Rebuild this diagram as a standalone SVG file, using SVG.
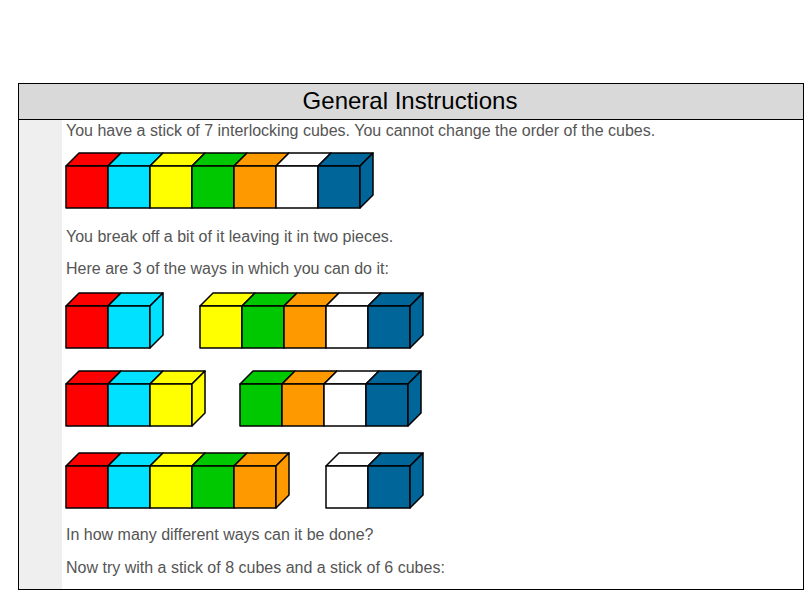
<svg xmlns="http://www.w3.org/2000/svg" width="811" height="607" viewBox="0 0 811 607">
<style>
text{font-family:"Liberation Sans",Arial,sans-serif}
.t{font-size:16px;fill:#555}
.c rect,.c polygon{stroke:#000;stroke-width:1.5;stroke-linejoin:round}
.r{fill:#ff0000}.cy{fill:#00e1ff}.y{fill:#ffff00}.g{fill:#00c800}.o{fill:#ff9900}.w{fill:#ffffff}.b{fill:#006699}
</style>
<rect x="0" y="0" width="811" height="607" fill="#fff"/>
<rect x="19" y="83" width="784" height="36" fill="#d9d9d9"/>
<rect x="19" y="119" width="43" height="470" fill="#efefef"/>
<rect x="18.5" y="83.5" width="785" height="506" fill="none" stroke="#000"/>
<line x1="18" y1="119.5" x2="803" y2="119.5" stroke="#000"/>
<g id="title"><text x="410" y="109" font-size="24" text-anchor="middle" fill="#000">General Instructions</text></g>
<g id="texts">
<text class="t" x="66" y="136">You have a stick of 7 interlocking cubes. You cannot change the order of the cubes.</text>
<text class="t" x="66" y="242">You break off a bit of it leaving it in two pieces.</text>
<text class="t" x="66" y="274">Here are 3 of the ways in which you can do it:</text>
<text class="t" x="66" y="540">In how many different ways can it be done?</text>
<text class="t" x="66" y="573">Now try with a stick of 8 cubes and a stick of 6 cubes:</text>
</g>
<g id="stick7" class="c">
<polygon class="r" points="66,166 79,153 121,153 108,166"/><rect class="r" x="66" y="166" width="42" height="42"/>
<polygon class="cy" points="108,166 121,153 163,153 150,166"/><rect class="cy" x="108" y="166" width="42" height="42"/>
<polygon class="y" points="150,166 163,153 205,153 192,166"/><rect class="y" x="150" y="166" width="42" height="42"/>
<polygon class="g" points="192,166 205,153 247,153 234,166"/><rect class="g" x="192" y="166" width="42" height="42"/>
<polygon class="o" points="234,166 247,153 289,153 276,166"/><rect class="o" x="234" y="166" width="42" height="42"/>
<polygon class="w" points="276,166 289,153 331,153 318,166"/><rect class="w" x="276" y="166" width="42" height="42"/>
<polygon class="b" points="318,166 331,153 373,153 360,166"/><rect class="b" x="318" y="166" width="42" height="42"/>
<polygon class="b" points="360,166 373,153 373,195 360,208"/>
</g>
<g id="row2a" class="c">
<polygon class="r" points="66,306 79,293 121,293 108,306"/><rect class="r" x="66" y="306" width="42" height="42"/>
<polygon class="cy" points="108,306 121,293 163,293 150,306"/><rect class="cy" x="108" y="306" width="42" height="42"/>
<polygon class="cy" points="150,306 163,293 163,335 150,348"/>
</g>
<g id="row2b" class="c">
<polygon class="y" points="200,306 213,293 255,293 242,306"/><rect class="y" x="200" y="306" width="42" height="42"/>
<polygon class="g" points="242,306 255,293 297,293 284,306"/><rect class="g" x="242" y="306" width="42" height="42"/>
<polygon class="o" points="284,306 297,293 339,293 326,306"/><rect class="o" x="284" y="306" width="42" height="42"/>
<polygon class="w" points="326,306 339,293 381,293 368,306"/><rect class="w" x="326" y="306" width="42" height="42"/>
<polygon class="b" points="368,306 381,293 423,293 410,306"/><rect class="b" x="368" y="306" width="42" height="42"/>
<polygon class="b" points="410,306 423,293 423,335 410,348"/>
</g>
<g id="row3a" class="c">
<polygon class="r" points="66,384 79,371 121,371 108,384"/><rect class="r" x="66" y="384" width="42" height="42"/>
<polygon class="cy" points="108,384 121,371 163,371 150,384"/><rect class="cy" x="108" y="384" width="42" height="42"/>
<polygon class="y" points="150,384 163,371 205,371 192,384"/><rect class="y" x="150" y="384" width="42" height="42"/>
<polygon class="y" points="192,384 205,371 205,413 192,426"/>
</g>
<g id="row3b" class="c">
<polygon class="g" points="240,384 253,371 295,371 282,384"/><rect class="g" x="240" y="384" width="42" height="42"/>
<polygon class="o" points="282,384 295,371 337,371 324,384"/><rect class="o" x="282" y="384" width="42" height="42"/>
<polygon class="w" points="324,384 337,371 379,371 366,384"/><rect class="w" x="324" y="384" width="42" height="42"/>
<polygon class="b" points="366,384 379,371 421,371 408,384"/><rect class="b" x="366" y="384" width="42" height="42"/>
<polygon class="b" points="408,384 421,371 421,413 408,426"/>
</g>
<g id="row4a" class="c">
<polygon class="r" points="66,466 79,453 121,453 108,466"/><rect class="r" x="66" y="466" width="42" height="42"/>
<polygon class="cy" points="108,466 121,453 163,453 150,466"/><rect class="cy" x="108" y="466" width="42" height="42"/>
<polygon class="y" points="150,466 163,453 205,453 192,466"/><rect class="y" x="150" y="466" width="42" height="42"/>
<polygon class="g" points="192,466 205,453 247,453 234,466"/><rect class="g" x="192" y="466" width="42" height="42"/>
<polygon class="o" points="234,466 247,453 289,453 276,466"/><rect class="o" x="234" y="466" width="42" height="42"/>
<polygon class="o" points="276,466 289,453 289,495 276,508"/>
</g>
<g id="row4b" class="c">
<polygon class="w" points="326,466 339,453 381,453 368,466"/><rect class="w" x="326" y="466" width="42" height="42"/>
<polygon class="b" points="368,466 381,453 423,453 410,466"/><rect class="b" x="368" y="466" width="42" height="42"/>
<polygon class="b" points="410,466 423,453 423,495 410,508"/>
</g>
<g id="connectors"/>
</svg>
